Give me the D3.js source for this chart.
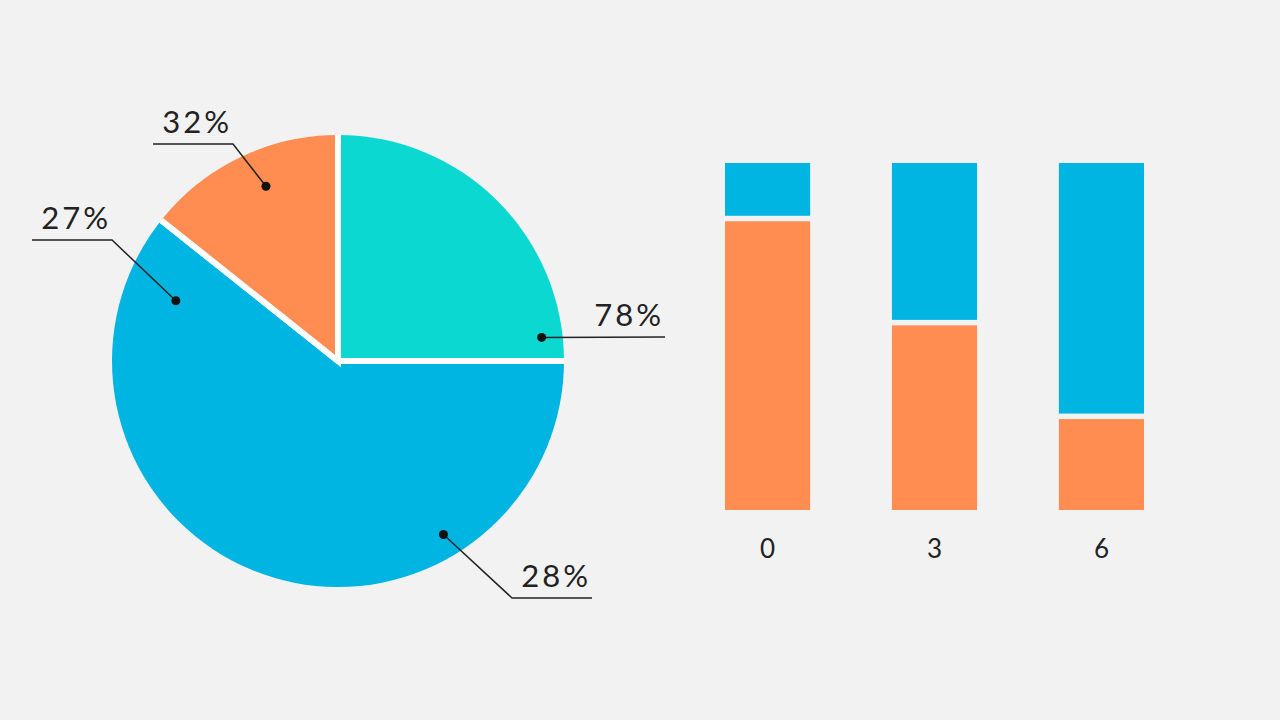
<!DOCTYPE html>
<html>
<head>
<meta charset="utf-8">
<script src="https://cdn.jsdelivr.net/npm/d3@7/dist/d3.min.js"></script>
<style>
  html, body { margin: 0; padding: 0; background: #f2f2f2; }
  svg { display: block; }
  text { font-family: "Lato", "Inter", sans-serif; fill: #222; }
</style>
</head>
<body>
<script>
// pie slices (share of circle, %)
const pieNames = ["teal", "blue", "orange"];
const pieValues = [25, 60.7, 14.3];
// the labels written around the pie
const pieLabels = ["78%", "28%", "27%", "32%"];

// stacked bars
const barCategories = ["0", "3", "6"];
const orangeValues = [84, 54, 27];
const blueValues = [16, 46, 73];

const colors = { teal: "#0bd9d1", blue: "#00b5e2", orange: "#ff8c50" };

const width = 1280, height = 720;
const svg = d3.select("body").append("svg")
    .attr("width", width)
    .attr("height", height);

// ---------- pie ----------
const cx = 338, cy = 361, radius = 226;
const pieG = svg.append("g").attr("transform", "translate(" + cx + "," + cy + ")");

// clip so the white separators do not ring the outside of the pie
svg.append("defs").append("clipPath")
    .attr("id", "pieClip")
    .append("circle")
    .attr("r", radius);

const pie = d3.pie().sort(null).value(function(d) { return d.value; });
const arc = d3.arc().innerRadius(0).outerRadius(radius + 6);

const pieData = pie(pieNames.map(function(n, i) { return { name: n, value: pieValues[i] }; }));

pieG.append("g")
    .attr("clip-path", "url(#pieClip)")
    .selectAll("path.slice")
    .data(pieData)
    .enter()
    .append("path")
    .attr("class", "slice")
    .attr("d", arc)
    .attr("fill", function(d) { return colors[d.data.name]; })
    .attr("stroke", "#ffffff")
    .attr("stroke-width", 6)
    .attr("stroke-linejoin", "miter");

// label layout: dot angle (deg, clockwise from top), dot radius, right end of underline
const labelLayout = [
  { angle: 83.4, r: 205, ex: 327, ey: -24 },
  { angle: 148.7, r: 203, ex: 254, ey: 237 },
  { angle: 290.4, r: 173, ex: -226, ey: -121 },
  { angle: 337.6, r: 189, ex: -105, ey: -217 }
];
const lineLen = 80;

const lab = pieG.selectAll("g.lab")
    .data(pieLabels)
    .enter()
    .append("g")
    .attr("class", "lab");

lab.each(function(t, i) {
  const L = labelLayout[i];
  const a = L.angle * Math.PI / 180;
  const px = L.r * Math.sin(a), py = -L.r * Math.cos(a);
  const g = d3.select(this);
  const path = (i == 0) ? [[px, py], [L.ex, L.ey]]
             : (i == 1) ? [[px, py], [L.ex - lineLen, L.ey], [L.ex, L.ey]]
             : [[px, py], [L.ex, L.ey], [L.ex - lineLen, L.ey]];
  g.append("path")
    .attr("d", d3.line()(path))
    .attr("fill", "none")
    .attr("stroke", "#222")
    .attr("stroke-width", 1.5);
  g.append("circle")
    .attr("cx", px).attr("cy", py).attr("r", 4.5)
    .attr("fill", "#111");
  g.append("text")
    .attr("x", L.ex - 1)
    .attr("y", L.ey - 11)
    .attr("text-anchor", "end")
    .attr("font-size", 31)
    .attr("letter-spacing", 3)
    .text(t);
});

// ---------- stacked bars ----------
const x = d3.scaleBand()
    .domain(barCategories)
    .range([725, 1144])
    .paddingInner(0.49)
    .paddingOuter(0);

const y = d3.scaleLinear().domain([0, 100]).range([510, 163]);

const table = barCategories.map(function(c, i) {
  return { cat: c, orange: orangeValues[i], blue: blueValues[i] };
});
const series = d3.stack().keys(["orange", "blue"])(table);
const gap = 5.5;

svg.append("g").selectAll("g")
    .data(series)
    .enter()
    .append("g")
    .attr("fill", function(s) { return colors[s.key]; })
    .selectAll("rect")
    .data(function(s) { return s; })
    .enter()
    .append("rect")
    .attr("x", function(d) { return x(d.data.cat); })
    .attr("y", function(d) { return y(d[1]) + (d[1] < 100 ? gap / 2 : 0); })
    .attr("width", x.bandwidth())
    .attr("height", function(d) {
      let h = y(d[0]) - y(d[1]);
      if (d[1] < 100) h -= gap / 2;
      if (d[0] > 0) h -= gap / 2;
      return h;
    });

const xAxis = svg.append("g")
    .attr("transform", "translate(0,510)")
    .call(d3.axisBottom(x).tickSize(0).tickPadding(30));
xAxis.select(".domain").remove();
xAxis.selectAll("text")
    .attr("font-size", 26)
    .attr("fill", "#222")
    .style("font-family", "Lato, Inter, sans-serif");
</script>
</body>
</html>
